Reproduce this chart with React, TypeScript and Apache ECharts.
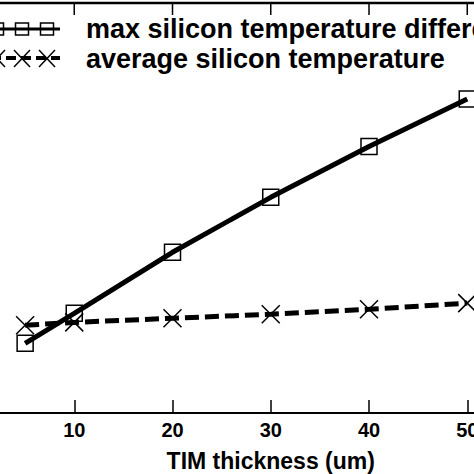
import React, { useEffect, useRef } from "react";
import * as echarts from "echarts";

const xValues = [5, 10, 20, 30, 40, 50];
const maxDiff = [17.0, 24.3, 39.2, 52.6, 65.0, 76.6];
const avgTemp = [21.4, 22.1, 23.1, 24.1, 25.3, 26.8];
const xTickLabels = [10, 20, 30, 40, 50];
const legendNames = ["max silicon temperature difference", "average silicon temperature"];
const xName = "TIM thickness (um)";

const FONT = '"Liberation Sans", Arial, Helvetica, sans-serif';
const SHIFT = 24; // chart div starts 24px left of the page

export default function App() {
  const ref = useRef<HTMLDivElement>(null);
  useEffect(() => {
    if (!ref.current) return;
    const chart = echarts.init(ref.current, null, { renderer: "svg" });
    const markerXs = [-3, 22, 47].map((v) => v + SHIFT);
    const legendGraphics: any[] = [];
    legendGraphics.push({
      type: "line",
      shape: { x1: 0, y1: 29, x2: 60 + SHIFT, y2: 29 },
      style: { stroke: "#000", lineWidth: 3 },
    });
    markerXs.forEach((cx) => {
      legendGraphics.push({
        type: "rect",
        shape: { x: cx - 6.5, y: 23, width: 13, height: 12 },
        style: { fill: "none", stroke: "#000", lineWidth: 1.5 },
      });
    });
    legendGraphics.push({
      type: "line",
      shape: { x1: 0, y1: 58, x2: 60 + SHIFT, y2: 58 },
      style: { stroke: "#000", lineWidth: 4, lineDash: [10, 5] },
    });
    markerXs.forEach((cx) => {
      legendGraphics.push({
        type: "line",
        shape: { x1: cx - 8, y1: 50, x2: cx + 8, y2: 67 },
        style: { stroke: "#000", lineWidth: 1.5 },
      });
      legendGraphics.push({
        type: "line",
        shape: { x1: cx - 8, y1: 67, x2: cx + 8, y2: 50 },
        style: { stroke: "#000", lineWidth: 1.5 },
      });
    });
    legendNames.forEach((name, i) => {
      legendGraphics.push({
        type: "text",
        x: 86 + SHIFT,
        y: i === 0 ? 29 : 58.5,
        style: {
          text: name,
          fill: "#000",
          font: `bold 27px ${FONT}`,
          verticalAlign: "middle",
          align: "left",
        },
      });
    });

    chart.setOption({
      animation: false,
      backgroundColor: "#fff",
      textStyle: { fontFamily: FONT },
      grid: {
        left: 0,
        width: 589.5,
        top: 3,
        height: 410,
        containLabel: false,
        outerBoundsMode: "none",
      },
      xAxis: {
        type: "value",
        min: 0,
        max: 60,
        interval: 10,
        splitLine: { show: false },
        position: "bottom",
        name: xName,
        nameLocation: "middle",
        nameGap: 36,
        nameTextStyle: { color: "#000", fontSize: 23, fontWeight: "bold", fontFamily: FONT },
        axisLine: { show: true, onZero: false, lineStyle: { color: "#000", width: 2 } },
        axisTick: { show: true, inside: true, length: 13, lineStyle: { color: "#000", width: 1.5 } },
        axisLabel: {
          color: "#000",
          fontSize: 20,
          fontWeight: "bold",
          fontFamily: FONT,
          margin: 7,
          formatter: (v: number) => (xTickLabels.indexOf(v) >= 0 ? String(v) : ""),
        },
      },
      yAxis: { type: "value", min: 0, max: 100, show: false },
      series: [
        {
          type: "line",
          data: xValues.map((x, i) => [x, avgTemp[i]]),
          symbol: "path://M0,0L10,10M10,0L0,10",
          symbolSize: 18,
          itemStyle: { color: "transparent", borderColor: "#000", borderWidth: 1.5 },
          lineStyle: { color: "#000", width: 5, type: [14, 6] },
          z: 2,
        },
        {
          type: "line",
          data: xValues.map((x, i) => [x, maxDiff[i]]),
          symbol: "rect",
          symbolSize: 16,
          itemStyle: { color: "transparent", borderColor: "#000", borderWidth: 1.5 },
          lineStyle: { color: "#000", width: 5 },
          z: 3,
        },
      ],
    });

    // top frame line with inward ticks, positioned through the x axis scale
    const topY = chart.convertToPixel({ yAxisIndex: 0 }, 100) as number;
    const x0 = chart.convertToPixel({ xAxisIndex: 0 }, 0) as number;
    const x1 = chart.convertToPixel({ xAxisIndex: 0 }, 60) as number;
    const frame: any[] = [
      {
        type: "line",
        shape: { x1: x0, y1: topY, x2: x1, y2: topY },
        style: { stroke: "#000", lineWidth: 2.5 },
        z: 10,
      },
    ];
    xTickLabels.forEach((t) => {
      const px = chart.convertToPixel({ xAxisIndex: 0 }, t) as number;
      frame.push({
        type: "line",
        shape: { x1: px, y1: topY, x2: px, y2: topY + 12 },
        style: { stroke: "#000", lineWidth: 1.5 },
        z: 10,
      });
    });
    chart.setOption({ graphic: [...frame, ...legendGraphics] });
    return () => chart.dispose();
  }, []);
  return (
    <div
      ref={ref}
      style={{ position: "fixed", left: -SHIFT, top: 0, width: 620, height: 474, background: "#fff" }}
    />
  );
}
